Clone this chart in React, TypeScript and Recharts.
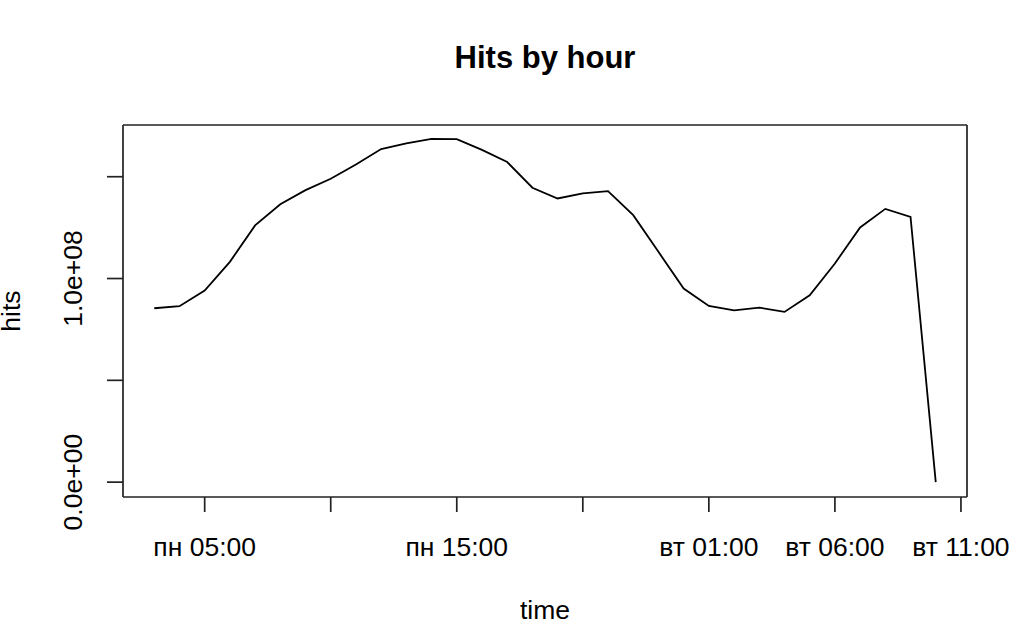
import React from "react";
import { LineChart, Line, XAxis, YAxis } from "recharts";

// hours since Monday 00:00
const hours = [3, 4, 5, 6, 7, 8, 9, 10, 11, 12, 13, 14, 15, 16, 17, 18, 19, 20, 21, 22, 23, 24, 25, 26, 27, 28, 29, 30, 31, 32, 33, 34];
const hits = [
  85.4e6, 86.4e6, 94.1e6, 108.2e6, 126.1e6, 136.5e6, 143.4e6, 149.0e6, 156.0e6, 163.6e6, 166.4e6, 168.6e6,
  168.5e6, 163.2e6, 157.2e6, 144.6e6, 139.3e6, 141.8e6, 142.9e6, 131.1e6, 113.1e6, 95.1e6, 86.5e6, 84.4e6,
  85.7e6, 83.6e6, 91.8e6, 107.4e6, 125.1e6, 134.2e6, 130.3e6, 0,
];
const xTicks = [5, 10, 15, 20, 25, 30, 35];
const xTickLabels = ["пн 05:00", "", "пн 15:00", "", "вт 01:00", "вт 06:00", "вт 11:00"];
const yTicks = [0, 5e7, 1e8, 1.5e8];
const yTickLabels = ["0.0e+00", "", "1.0e+08", ""];

const data = hours.map((h, i) => ({ h, hits: hits[i] }));

const FONT = "'Liberation Sans', Arial, Helvetica, sans-serif";

const XTick = (props: any) => {
  const i = xTicks.indexOf(props.payload.value);
  const label = i >= 0 ? xTickLabels[i] : "";
  return (
    <text x={props.x} y={props.y} dy={42} textAnchor="middle" fontSize={26.5} fontFamily={FONT} fill="#000">
      {label}
    </text>
  );
};

const YTick = (props: any) => {
  const i = yTicks.indexOf(props.payload.value);
  const label = i >= 0 ? yTickLabels[i] : "";
  const x = props.x - 23;
  const y = props.y;
  return (
    <text x={x} y={y} textAnchor="middle" fontSize={26.5} fontFamily={FONT} fill="#000" transform={`rotate(-90, ${x}, ${y})`}>
      {label}
    </text>
  );
};

const AX = { stroke: "#222", strokeWidth: 1.7 };

export default function App() {
  return (
    <div style={{ position: "absolute", left: 0, top: 0, width: 1024, height: 644, background: "#fff" }}>
      <LineChart
        width={1024}
        height={644}
        data={data}
        margin={{ top: 124, right: 56, bottom: 87, left: 63 }}
      >
        <XAxis
          xAxisId="b"
          dataKey="h"
          type="number"
          domain={[1.76, 35.24]}
          ticks={xTicks}
          interval={0}
          height={60}
          tickSize={15}
          tick={<XTick />}
          axisLine={AX}
          tickLine={AX}
          allowDataOverflow
        />
        <XAxis
          xAxisId="t"
          dataKey="h"
          type="number"
          orientation="top"
          domain={[1.76, 35.24]}
          height={1}
          tick={false}
          tickLine={false}
          axisLine={AX}
          allowDataOverflow
        />
        <YAxis
          yAxisId="l"
          type="number"
          domain={[-7.3e6, 1.754e8]}
          ticks={yTicks}
          interval={0}
          width={60}
          tickSize={16}
          tick={<YTick />}
          axisLine={AX}
          tickLine={AX}
          allowDataOverflow
        />
        <YAxis
          yAxisId="r"
          type="number"
          orientation="right"
          domain={[-7.3e6, 1.754e8]}
          width={1}
          tick={false}
          tickLine={false}
          axisLine={AX}
          allowDataOverflow
        />
        <Line
          xAxisId="b"
          yAxisId="l"
          type="linear"
          dataKey="hits"
          stroke="#000"
          strokeWidth={1.8}
          dot={false}
          activeDot={false}
          isAnimationActive={false}
        />
      </LineChart>
      <svg
        width={1024}
        height={644}
        style={{ position: "absolute", left: 0, top: 0, pointerEvents: "none" }}
      >
        <text x={545} y={68} textAnchor="middle" fontSize={31} fontWeight="bold" fontFamily={FONT} fill="#000">
          Hits by hour
        </text>
        <text x={545} y={619} textAnchor="middle" fontSize={26.5} fontFamily={FONT} fill="#000">
          time
        </text>
        <text x={20} y={311} textAnchor="middle" fontSize={26.5} fontFamily={FONT} fill="#000" transform="rotate(-90, 20, 311)">
          hits
        </text>
      </svg>
    </div>
  );
}
